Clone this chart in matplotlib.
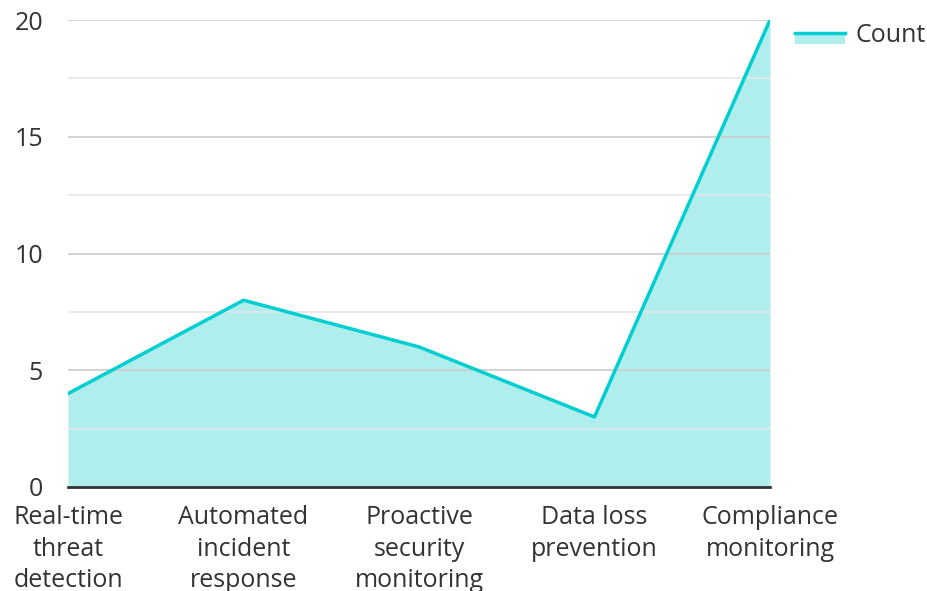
import matplotlib.pyplot as plt
from matplotlib.patches import Rectangle
from matplotlib.lines import Line2D
from matplotlib.legend_handler import HandlerBase
import numpy as np

plt.rcParams['font.family'] = ['Open Sans', 'DejaVu Sans']

categories = ['Real-time\nthreat\ndetection', 'Automated\nincident\nresponse',
              'Proactive\nsecurity\nmonitoring', 'Data loss\nprevention',
              'Compliance\nmonitoring']
counts = [4, 8, 6, 3, 20]
y_ticks = [0, 5, 10, 15, 20]
y_minor = [2.5, 7.5, 12.5, 17.5]

line_color = '#00CED1'
fill_color = '#B0EEEE'
text_color = '#333333'


class AreaHandler(HandlerBase):
    # line on top of a filled box, like the area legend key
    def create_artists(self, legend, orig_handle, xdescent, ydescent,
                       width, height, fontsize, trans):
        top = height * 0.5
        rect = Rectangle((-xdescent, -ydescent), width, top, facecolor=fill_color,
                         edgecolor='none', transform=trans)
        ln = Line2D([-xdescent, width - xdescent], [top - ydescent] * 2,
                    color=line_color, linewidth=2.5, transform=trans)
        return [rect, ln]


fig = plt.figure(figsize=(9.28, 5.91), dpi=100)
ax = fig.add_axes([0.0733, 0.176, 0.7564, 0.79])

x = np.arange(len(categories))
ax.fill_between(x, counts, 0, color=fill_color, zorder=1, linewidth=0)
line, = ax.plot(x, counts, color=line_color, linewidth=2.5, zorder=3)

ax.set_xlim(0, len(categories) - 1)
ax.set_ylim(0, 20)
ax.set_yticks(y_ticks)
ax.set_yticks(y_minor, minor=True)
ax.set_xticks(x)
ax.set_xticklabels(categories, fontsize=18, color=text_color, linespacing=1.35)
ax.tick_params(axis='y', which='major', labelsize=18, labelcolor=text_color, length=0, pad=18)
ax.tick_params(axis='y', which='minor', length=0)
ax.tick_params(axis='x', length=0, pad=13)

ax.grid(axis='y', which='major', color='#cccccc', linewidth=1.2, zorder=2)
ax.grid(axis='y', which='minor', color='#e6e6e6', linewidth=1.2, zorder=2)
ax.set_axisbelow(False)
for s in ['top', 'right', 'left']:
    ax.spines[s].set_visible(False)
ax.spines['bottom'].set_color(text_color)
ax.spines['bottom'].set_linewidth(2)
ax.spines['bottom'].set_zorder(4)

leg = fig.legend([line], ['Count'], loc='upper left', bbox_to_anchor=(0.857, 0.963),
                 frameon=False, fontsize=18, handlelength=2.0, handleheight=1.0,
                 handletextpad=0.4, borderpad=0, borderaxespad=0,
                 handler_map={Line2D: AreaHandler()})
for t in leg.get_texts():
    t.set_color(text_color)

fig.savefig('out.png', dpi=100)
